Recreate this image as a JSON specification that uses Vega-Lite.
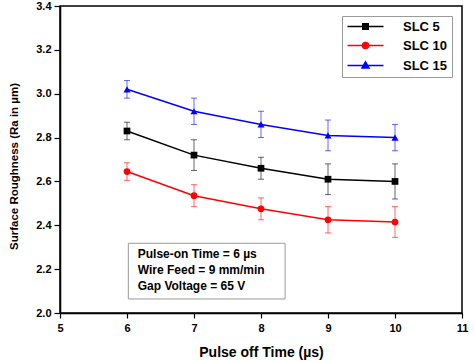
{
  "$schema": "https://vega.github.io/schema/vega-lite/v6.json",
  "width": 402,
  "height": 307,
  "autosize": {"type": "none"},
  "padding": {"left": 60, "top": 6, "right": 12, "bottom": 48},
  "background": "white",
  "config": {
    "view": {"stroke": "black", "strokeWidth": 1.5},
    "axis": {
      "domainColor": "black", "domainWidth": 1.5, "tickColor": "black", "tickWidth": 1.2,
      "labelFont": "Liberation Sans", "labelFontWeight": "bold", "labelFontSize": 11, "labelColor": "black",
      "labelPadding": 3, "labelFlush": false, "labelOverlap": false, "grid": false,
      "titleFont": "Liberation Sans", "titleFontWeight": "bold", "titleColor": "black"
    }
  },
  "data": {"values": [
    {"series": "SLC 5", "x": 6, "y": 2.83, "err": 0.04},
    {"series": "SLC 5", "x": 7, "y": 2.72, "err": 0.07},
    {"series": "SLC 5", "x": 8, "y": 2.66, "err": 0.05},
    {"series": "SLC 5", "x": 9, "y": 2.61, "err": 0.07},
    {"series": "SLC 5", "x": 10, "y": 2.60, "err": 0.08},
    {"series": "SLC 10", "x": 6, "y": 2.645, "err": 0.04},
    {"series": "SLC 10", "x": 7, "y": 2.535, "err": 0.05},
    {"series": "SLC 10", "x": 8, "y": 2.475, "err": 0.05},
    {"series": "SLC 10", "x": 9, "y": 2.425, "err": 0.06},
    {"series": "SLC 10", "x": 10, "y": 2.415, "err": 0.07},
    {"series": "SLC 15", "x": 6, "y": 3.02, "err": 0.04},
    {"series": "SLC 15", "x": 7, "y": 2.92, "err": 0.06},
    {"series": "SLC 15", "x": 8, "y": 2.86, "err": 0.06},
    {"series": "SLC 15", "x": 9, "y": 2.81, "err": 0.07},
    {"series": "SLC 15", "x": 10, "y": 2.80, "err": 0.06}
  ]},
  "layer": [
    {
      "transform": [{"filter": "datum.series == 'SLC 5'"}],
      "mark": {"type": "line", "strokeWidth": 1.5, "color": "#000000"},
      "encoding": {
        "x": {"field": "x", "type": "quantitative", "title": "Pulse off Time (µs)", "scale": {"domain": [5, 11], "nice": false, "zero": false},
          "axis": {"titleFontSize": 14, "titleBaseline": "middle", "titleY": 39, "labelPadding": 4,
            "values": [5, 5.5, 6, 6.5, 7, 7.5, 8, 8.5, 9, 9.5, 10, 10.5, 11],
            "labelExpr": "datum.value % 1 == 0 ? '' + datum.value : ''",
            "tickSize": {"condition": {"test": "datum.value % 1 == 0", "value": 5}, "value": 3}}},
        "y": {"field": "y", "type": "quantitative", "title": "Surface Roughness (Ra in µm)", "scale": {"domain": [2.0, 3.4], "nice": false, "zero": false},
          "axis": {"titleFontSize": 11.5, "titleBaseline": "middle", "titleX": -46, "titleY": 160,
            "values": [2.0, 2.1, 2.2, 2.3, 2.4, 2.5, 2.6, 2.7, 2.8, 2.9, 3.0, 3.1, 3.2, 3.3, 3.4],
            "labelExpr": "round(datum.value * 10) % 2 == 0 ? format(datum.value, '.1f') : ''",
            "tickSize": {"condition": {"test": "round(datum.value * 10) % 2 == 0", "value": 6}, "value": 3}}}
      }
    },
    {
      "transform": [{"filter": "datum.series == 'SLC 10'"}],
      "mark": {"type": "line", "strokeWidth": 1.5, "color": "#ff0000"},
      "encoding": {
        "x": {"field": "x", "type": "quantitative", "title": "Pulse off Time (µs)"},
        "y": {"field": "y", "type": "quantitative", "title": "Surface Roughness (Ra in µm)"}
      }
    },
    {
      "transform": [{"filter": "datum.series == 'SLC 15'"}],
      "mark": {"type": "line", "strokeWidth": 1.5, "color": "#0000ff"},
      "encoding": {
        "x": {"field": "x", "type": "quantitative", "title": "Pulse off Time (µs)"},
        "y": {"field": "y", "type": "quantitative", "title": "Surface Roughness (Ra in µm)"}
      }
    },
    {
      "transform": [{"filter": "datum.series == 'SLC 5'"}],
      "mark": {"type": "errorbar", "ticks": {"size": 6}, "opacity": 0.6, "thickness": 1, "color": "#000000"},
      "encoding": {
        "x": {"field": "x", "type": "quantitative", "title": "Pulse off Time (µs)"},
        "y": {"field": "y", "type": "quantitative", "title": "Surface Roughness (Ra in µm)"},
        "yError": {"field": "err"}
      }
    },
    {
      "transform": [{"filter": "datum.series == 'SLC 10'"}],
      "mark": {"type": "errorbar", "ticks": {"size": 6}, "opacity": 0.6, "thickness": 1, "color": "#ff0000"},
      "encoding": {
        "x": {"field": "x", "type": "quantitative", "title": "Pulse off Time (µs)"},
        "y": {"field": "y", "type": "quantitative", "title": "Surface Roughness (Ra in µm)"},
        "yError": {"field": "err"}
      }
    },
    {
      "transform": [{"filter": "datum.series == 'SLC 15'"}],
      "mark": {"type": "errorbar", "ticks": {"size": 6}, "opacity": 0.6, "thickness": 1, "color": "#0000ff"},
      "encoding": {
        "x": {"field": "x", "type": "quantitative", "title": "Pulse off Time (µs)"},
        "y": {"field": "y", "type": "quantitative", "title": "Surface Roughness (Ra in µm)"},
        "yError": {"field": "err"}
      }
    },
    {
      "transform": [{"filter": "datum.series == 'SLC 5'"}],
      "mark": {"type": "point", "filled": true, "opacity": 1, "size": 45, "shape": "square", "color": "#000000"},
      "encoding": {
        "x": {"field": "x", "type": "quantitative", "title": "Pulse off Time (µs)"},
        "y": {"field": "y", "type": "quantitative", "title": "Surface Roughness (Ra in µm)"}
      }
    },
    {
      "transform": [{"filter": "datum.series == 'SLC 10'"}],
      "mark": {"type": "point", "filled": true, "opacity": 1, "size": 45, "shape": "circle", "color": "#ff0000"},
      "encoding": {
        "x": {"field": "x", "type": "quantitative", "title": "Pulse off Time (µs)"},
        "y": {"field": "y", "type": "quantitative", "title": "Surface Roughness (Ra in µm)"}
      }
    },
    {
      "transform": [{"filter": "datum.series == 'SLC 15'"}],
      "mark": {"type": "point", "filled": true, "opacity": 1, "size": 50, "shape": "triangle-up", "color": "#0000ff"},
      "encoding": {
        "x": {"field": "x", "type": "quantitative", "title": "Pulse off Time (µs)"},
        "y": {"field": "y", "type": "quantitative", "title": "Surface Roughness (Ra in µm)"}
      }
    },
    {
      "data": {"values": [{}]},
      "mark": {"type": "rect", "fill": "white", "stroke": "#9a9a9a", "strokeWidth": 1},
      "encoding": {
        "x": {"datum": 6.02, "type": "quantitative", "title": "Pulse off Time (µs)"},
        "x2": {"datum": 8.36},
        "y": {"datum": 2.318, "type": "quantitative", "title": "Surface Roughness (Ra in µm)"},
        "y2": {"datum": 2.064}
      }
    },
    {
      "data": {"values": [{}]},
      "mark": {"type": "text", "align": "left", "baseline": "top", "font": "Liberation Sans", "fontWeight": "bold", "fontSize": 12, "lineHeight": 16, "color": "black"},
      "encoding": {
        "x": {"datum": 6.16, "type": "quantitative", "title": "Pulse off Time (µs)"},
        "y": {"datum": 2.292, "type": "quantitative", "title": "Surface Roughness (Ra in µm)"},
        "text": {"value": ["Pulse-on Time = 6 µs", "Wire Feed = 9 mm/min", "Gap Voltage = 65 V"]}
      }
    },
    {
      "mark": {"type": "point", "filled": false, "opacity": 0},
      "encoding": {
        "x": {"field": "x", "type": "quantitative", "title": "Pulse off Time (µs)"},
        "y": {"field": "y", "type": "quantitative", "title": "Surface Roughness (Ra in µm)"},
        "color": {"field": "series", "type": "nominal", "scale": {"domain": ["SLC 5", "SLC 10", "SLC 15"], "range": ["#000000", "#ff0000", "#0000ff"]}, "legend": {
            "title": null, "orient": "none", "legendX": 282, "legendY": 10,
            "padding": 4, "strokeColor": "#9a9a9a", "fillColor": "white",
            "symbolSize": 100, "symbolOffset": 13, "labelOffset": 31, "rowPadding": 5,
            "symbolStrokeWidth": 1.5, "symbolOpacity": 1,
            "labelFont": "Liberation Sans", "labelFontWeight": "bold", "labelFontSize": 13, "labelColor": "black"}},
        "shape": {"field": "series", "type": "nominal",
          "scale": {"domain": ["SLC 5", "SLC 10", "SLC 15"], "range": [
            "M-3.6,0H3.6M-0.55,-0.55H0.55V0.55H-0.55ZM-0.25,-0.25H0.25V0.25H-0.25Z",
            "M-3.6,0H3.6M-0.6,0A0.6,0.6,0,1,0,0.6,0A0.6,0.6,0,1,0,-0.6,0ZM-0.3,0A0.3,0.3,0,1,0,0.3,0A0.3,0.3,0,1,0,-0.3,0Z",
            "M-3.6,0H3.6M0,-0.75L0.7,0.5H-0.7ZM0,-0.35L0.3,0.25H-0.3Z"]},
          "legend": {
            "title": null, "orient": "none", "legendX": 282, "legendY": 10,
            "padding": 4, "strokeColor": "#9a9a9a", "fillColor": "white",
            "symbolSize": 100, "symbolOffset": 13, "labelOffset": 31, "rowPadding": 5,
            "symbolStrokeWidth": 1.5, "symbolOpacity": 1,
            "labelFont": "Liberation Sans", "labelFontWeight": "bold", "labelFontSize": 13, "labelColor": "black"}}
      }
    }
  ]
}
